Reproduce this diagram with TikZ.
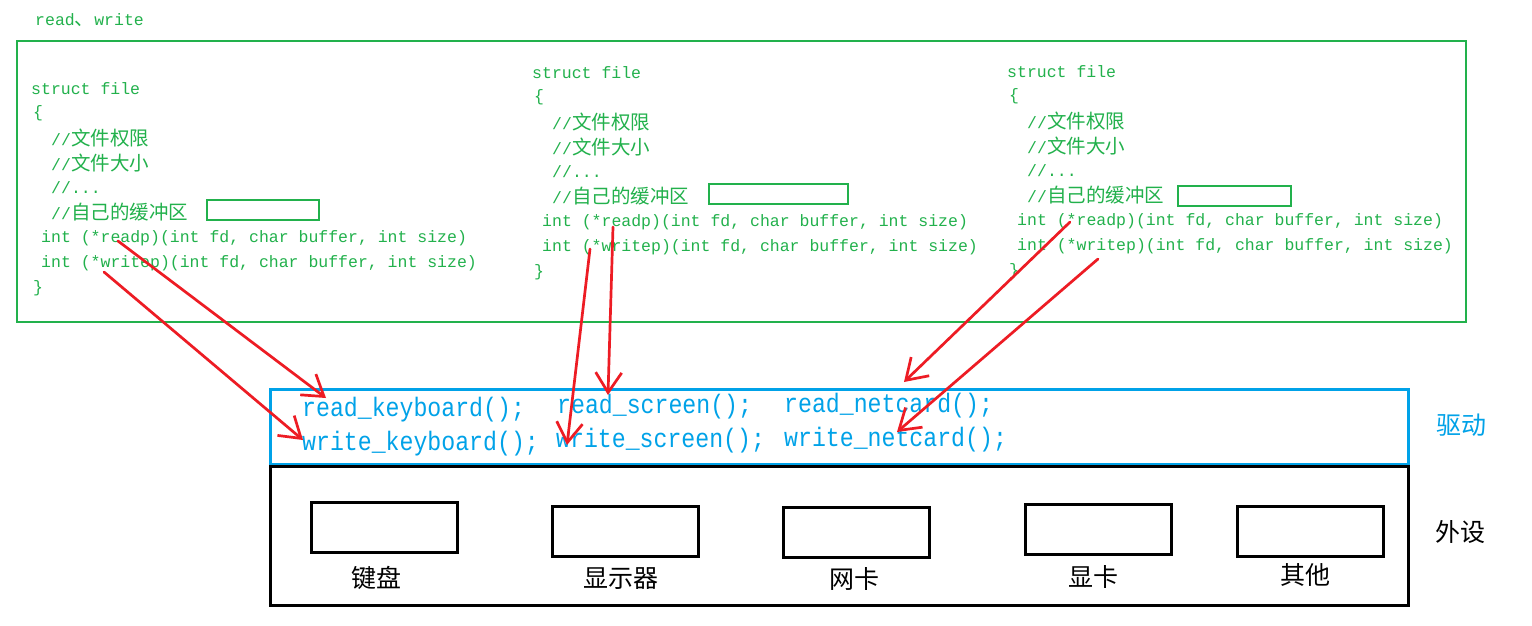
\documentclass[tikz,border=0pt]{standalone}
\usepackage{fontspec}
\usepackage{graphicx}
\usetikzlibrary{arrows.meta}
\newfontfamily\codefont{Liberation Mono}
\newfontfamily\cjkfont{Noto Sans CJK SC}
\definecolor{fgreen}{RGB}{34,177,76}
\definecolor{fblue}{RGB}{0,162,232}
\definecolor{fred}{RGB}{237,28,36}
\newcommand\zh[1]{{\cjkfont\fontsize{19.5}{20}\selectfont #1}}
\newcommand\drv[1]{\scalebox{1}[1.15]{#1}}
\tikzset{
  code/.style={font=\codefont\fontsize{16.5}{20}\selectfont, text=fgreen, inner sep=0pt, anchor=west},
  drvtext/.style={font=\codefont\fontsize{23.2}{26}\selectfont, text=fblue, inner sep=0pt, anchor=west},
  pbox/.style={draw=black, line width=3pt, minimum width=146pt, minimum height=50pt, inner sep=0pt},
  plabel/.style={font=\cjkfont\fontsize{25}{28}\selectfont, inner sep=0pt},
  sidelabel/.style={font=\cjkfont\fontsize{25}{28}\selectfont, inner sep=0pt},
  redarrow/.style={draw=fred, line width=2.7pt, line cap=round, -{Straight Barb[length=20pt,width=26pt]}},
}
% #1 prefix, #2 x, #3 y, #4 box left, #5 box right, #6 box top
\newcommand\fileblock[6]{%
  \node[code] (#1-struct) at (#2,#3) {struct file};
  \node[code] (#1-open)   at ([shift={(2,24.5)}]#2,#3) {\{};
  \node[code] (#1-c1)     at ([shift={(20,49)}]#2,#3) {//\zh{文件权限}};
  \node[code] (#1-c2)     at ([shift={(20,74)}]#2,#3) {//\zh{文件大小}};
  \node[code] (#1-c3)     at ([shift={(20,98.5)}]#2,#3) {//...};
  \node[code] (#1-c4)     at ([shift={(20,123.5)}]#2,#3) {//\zh{自己的缓冲区}};
  \node[code] (#1-readp)  at ([shift={(10,149.5)}]#2,#3) {int (*readp)(int fd, char buffer, int size)};
  \node[code] (#1-writep) at ([shift={(10,174.5)}]#2,#3) {int (*writep)(int fd, char buffer, int size)};
  \node[code] (#1-close)  at ([shift={(2,199)}]#2,#3) {\}};
  \draw[fgreen, line width=2.5pt] (#4,#6) rectangle (#5,#6+20);
  \coordinate (#1-buf) at (#4,#6);
}
\begin{document}
\begin{tikzpicture}[x=1pt,y=-1pt]
\useasboundingbox (0,0) rectangle (1532,626);
\fill[white] (0,0) rectangle (1532,626);

\node[code] (title) at (35,20) {read\zh{、}write};

\node[draw=fgreen, line width=2.7pt, minimum width=1449pt, minimum height=281pt, inner sep=0pt] (files) at (741.5,181.5) {};

\fileblock{L}{31}{89}{207}{319}{200}
\fileblock{M}{532}{73}{709}{848}{184}
\fileblock{R}{1007}{72}{1178}{1291}{186}

% driver box
\node[draw=fblue, line width=3pt, minimum width=1138pt, minimum height=75pt, inner sep=0pt] (driver) at (839,426.5) {};
\node[drvtext] (rkb) at (302,410) {\drv{read\_keyboard();}};
\node[drvtext] (wkb) at (302,444) {\drv{write\_keyboard();}};
\node[drvtext] (rsc) at (557,407) {\drv{read\_screen();}};
\node[drvtext] (wsc) at (556,441) {\drv{write\_screen();}};
\node[drvtext] (rnc) at (784,406) {\drv{read\_netcard();}};
\node[drvtext] (wnc) at (784,440) {\drv{write\_netcard();}};
\node[sidelabel, text=fblue] (drvlabel) at (1461,425) {驱动};

% peripheral box
\node[draw=black, line width=3pt, minimum width=1138pt, minimum height=139pt, inner sep=0pt] (periph) at (839,535.5) {};
\node[pbox] (kb)  at (384,527) {};
\node[pbox] (scr) at (625,531) {};
\node[pbox] (net) at (856,532.5) {};
\node[pbox] (gpu) at (1098,529.5) {};
\node[pbox] (oth) at (1310,531) {};
\node[plabel] (kbl)  at (376,578) {键盘};
\node[plabel] (scrl) at (621,579) {显示器};
\node[plabel] (netl) at (854,579) {网卡};
\node[plabel] (gpul) at (1093,577) {显卡};
\node[plabel] (othl) at (1305,575) {其他};
\node[sidelabel] (perlabel) at (1460,532) {外设};

% arrow end points
\coordinate (a1s) at (118,241);  \coordinate (a1e) at (326,398);
\coordinate (a2s) at (104,272);  \coordinate (a2e) at (303,440);
\coordinate (a3s) at (613,227);  \coordinate (a3e) at (608,395);
\coordinate (a4s) at (590,249);  \coordinate (a4e) at (567,445);
\coordinate (a5s) at (1070,222); \coordinate (a5e) at (904,382);
\coordinate (a6s) at (1098,259); \coordinate (a6e) at (897,432);

\draw[redarrow] (a1s) -- (a1e);
\draw[redarrow] (a2s) -- (a2e);
\draw[redarrow] (a3s) -- (a3e);
\draw[redarrow] (a4s) -- (a4e);
\draw[redarrow] (a5s) -- (a5e);
\draw[redarrow] (a6s) -- (a6e);
\end{tikzpicture}
\end{document}
